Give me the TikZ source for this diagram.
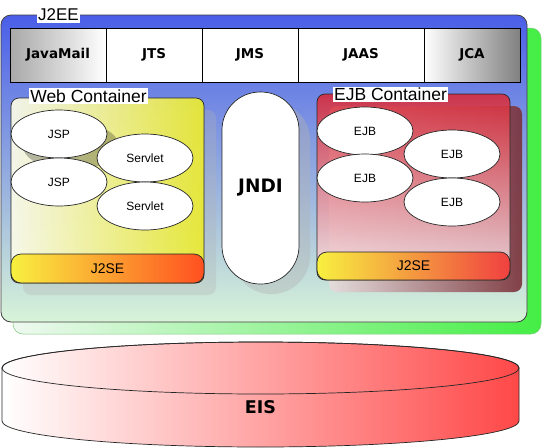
\documentclass[tikz,border=0pt]{standalone}
\usepackage{fontspec}
\setmainfont{Liberation Sans}
\newfontfamily\dvs{DejaVu Sans}
\usetikzlibrary{shapes.geometric}
\definecolor{bluetop}{HTML}{4A5EE8}
\definecolor{bluemid}{HTML}{98B0E4}
\definecolor{bluebot}{HTML}{D8F4D8}
\definecolor{greenR}{HTML}{44EE44}
\definecolor{greenL}{HTML}{EEF8F0}
\definecolor{yelL}{HTML}{FBFBEA}
\definecolor{yelR}{HTML}{EAEA30}
\definecolor{redtop}{HTML}{D82A38}
\definecolor{redbot}{HTML}{F2E6EA}
\definecolor{redshadow}{HTML}{7A3038}
\definecolor{redshadowL}{HTML}{E8DCDC}
\definecolor{barY}{HTML}{F8F040}
\definecolor{barO}{HTML}{FF5020}
\definecolor{barR}{HTML}{F04040}
\definecolor{eisR}{HTML}{FF4848}
\definecolor{cellgray}{HTML}{A8A8A8}
\definecolor{cellgrayR}{HTML}{808080}
\begin{document}
\begin{tikzpicture}[x=1pt,y=-1pt,
  cell/.style={draw=black, line width=0.8pt, minimum height=54pt, inner sep=0pt,
    font=\dvs\bfseries\fontsize{13.5}{16}\selectfont},
  ell/.style={ellipse, draw=black!85, line width=0.7pt, fill=white, minimum width=96pt,
    minimum height=48pt, inner sep=0pt, font=\fontsize{12}{14}\selectfont},
  lab/.style={fill=white, inner sep=1.5pt, font=\fontsize{17.5}{20}\selectfont},
  j2sebar/.style={draw=black!85, line width=0.7pt, rounded corners=10pt, minimum width=193pt,
    minimum height=29pt, inner sep=0pt, font=\fontsize{14}{16}\selectfont},
  container/.style={draw=black!85, line width=0.7pt, rounded corners=8pt, minimum width=193pt,
    inner sep=0pt},
  shadowbox/.style={rounded corners=8pt, minimum width=193pt, inner sep=0pt}]
\useasboundingbox (0,0) rectangle (542,448);
\fill[white] (0,0) rectangle (542,448);

% green back box
\node[rounded corners=10pt, minimum width=528pt, minimum height=306pt, inner sep=0pt,
  left color=greenL, right color=greenR, draw=greenR!70!black!60, line width=0.5pt] (greenbox) at (277,181) {};
% blue J2EE box
\node[rounded corners=10pt, minimum width=526pt, minimum height=307pt, inner sep=0pt,
  top color=bluetop, middle color=bluemid, bottom color=bluebot, draw=black!75, line width=0.8pt] (j2eebox) at (264,168.5) {};
\node[lab, font=\fontsize{17}{20}\selectfont] (j2ee) at (58.5,15) {J2EE};

% top bar
\node[cell, minimum width=96pt, left color=cellgray, right color=white] (javamail) at (58,55) {JavaMail};
\node[cell, minimum width=96pt, fill=white] (jts) at (154,55) {JTS};
\node[cell, minimum width=96pt, fill=white] (jms) at (250,55) {JMS};
\node[cell, minimum width=126pt, fill=white] (jaas) at (361,55) {JAAS};
\node[cell, minimum width=96pt, left color=white, right color=cellgrayR] (jca) at (472,55) {JCA};

% web container
\node[shadowbox, minimum height=185pt, fill=black!30, fill opacity=0.3] (webshadow) at (119.5,202.5) {};
\node[container, minimum height=185pt, left color=yelL, right color=yelR, fill opacity=0.93] (webc) at (107.5,190.5) {};
\node[lab] (weblab) at (88.5,96) {Web Container};
\fill[black, opacity=0.25] (71,146) ellipse [x radius=48, y radius=24];
\node[ell] (jsp1) at (59,134) {JSP};
\node[ell] (jsp2) at (59,182) {JSP};
\node[ell] (servlet1) at (145,158) {Servlet};
\node[ell] (servlet2) at (145,206) {Servlet};
\node[j2sebar, left color=barY, right color=barO] (j2seweb) at (107.5,268.5) {J2SE};

% JNDI
\node[rounded corners=38pt, minimum width=77pt, minimum height=192pt, inner sep=0pt,
  fill=black!30, fill opacity=0.4] (jndishadow) at (271.5,198) {};
\node[rounded corners=38pt, minimum width=77pt, minimum height=192pt, inner sep=0pt,
  fill=white, draw=black!85, line width=0.7pt, font=\dvs\bfseries\fontsize{18.5}{22}\selectfont] (jndi) at (260.5,188) {JNDI};

% EJB container
\node[shadowbox, minimum height=186pt, left color=redshadowL, right color=redshadow, fill opacity=0.9] (ejbshadow) at (425.5,199) {};
\node[container, minimum height=186pt, top color=redtop, bottom color=redbot, fill opacity=0.88] (ejbc) at (413.5,187) {};
\node[lab] (ejblab) at (390.5,94.5) {EJB Container};
\node[ell] (ejb1) at (365,131) {EJB};
\node[ell] (ejb2) at (452,154) {EJB};
\node[ell] (ejb3) at (365,178) {EJB};
\node[ell] (ejb4) at (452,202) {EJB};
\node[j2sebar, minimum height=28pt, left color=barY, right color=barR] (j2seejb) at (413.5,266) {J2SE};

% EIS cylinder
\shade[left color=white, right color=eisR, draw=black!85, line width=0.7pt]
  (2,368) -- (2,421) arc[start angle=180, end angle=0, x radius=258.5, y radius=26]
  -- (519,368) arc[start angle=0, end angle=-180, x radius=258.5, y radius=26] -- cycle;
\draw[black!85, line width=0.7pt] (260.5,368) ellipse [x radius=258.5, y radius=26];
\node[font=\dvs\bfseries\fontsize{17.5}{20}\selectfont] (eis) at (260.5,407) {EIS};
\end{tikzpicture}
\end{document}
